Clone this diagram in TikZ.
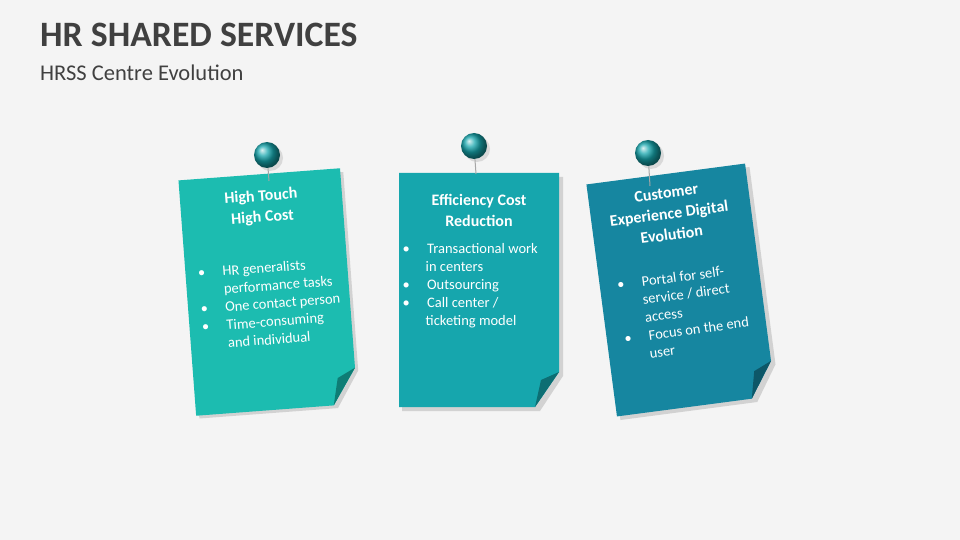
\documentclass[tikz,border=0pt]{standalone}
\usepackage{fontspec}
\setmainfont{Carlito}
\definecolor{cA}{HTML}{1CBCB0}
\definecolor{cB}{HTML}{16A6AD}
\definecolor{cC}{HTML}{1686A0}
\definecolor{fA}{HTML}{0E7D75}
\definecolor{fB}{HTML}{0D6E73}
\definecolor{fC}{HTML}{0D5768}
\begin{document}
\begin{tikzpicture}[x=1pt,y=-1pt,
  notetxt/.style={text=white,font=\fontsize{14.5}{18}\selectfont,align=left,transform shape},
  notehead/.style={text=white,font=\bfseries\fontsize{16}{21}\selectfont,align=center,transform shape},
  pinline/.style={draw=gray!70,line width=1pt}]
\fill[gray!9] (0,0) rectangle (960,540);
\useasboundingbox (0,0) rectangle (960,540);
\node[anchor=west,text=black!75,font=\bfseries\fontsize{35.7}{40}\selectfont,inner sep=0] (title) at (40,35) {HR SHARED SERVICES};
\node[anchor=west,text=black!75,font=\fontsize{22.5}{26}\selectfont,inner sep=0] (sub) at (40,73) {HRSS Centre Evolution};
% note 1
\begin{scope}[shift={(268,291)},rotate=4.3]
  \fill[black!30,opacity=.5] (-78,-113) -- (84,-113) -- (84,86) -- (61,122) -- (-78,122) -- cycle;
  \fill[cA] (-81,-117) -- (81,-117) -- (81,83) -- (57,119) -- (-81,119) -- cycle;
  \fill[fA] (81,83) -- (57,119) -- (63,92) -- cycle;
  \node[notehead] (h1) at (0,-84) {High Touch\\High Cost};
  \node[notetxt,anchor=north west] (b1) at (-72,-32) {\textbullet\hspace{1.2em}HR generalists\\\hspace{1.7em}performance tasks\\\textbullet\hspace{1.2em}One contact person\\\textbullet\hspace{1.2em}Time-consuming\\\hspace{1.7em}and individual};
\end{scope}
% note 2
\begin{scope}[shift={(479,290)}]
  \fill[black!30,opacity=.5] (-77,-113) -- (84,-113) -- (84,86) -- (61,121) -- (-77,121) -- cycle;
  \fill[cB] (-80,-117) -- (80,-117) -- (80,82) -- (56,117) -- (-80,117) -- cycle;
  \fill[fB] (80,82) -- (56,117) -- (62,90) -- cycle;
  \node[notehead] (h2) at (0,-80) {Efficiency Cost\\Reduction};
  \node[notetxt,anchor=north west] (b2) at (-80,-50) {\textbullet\hspace{1.2em}Transactional work\\\hspace{1.6em}in centers\\\textbullet\hspace{1.2em}Outsourcing\\\textbullet\hspace{1.2em}Call center /\\\hspace{1.6em}ticketing model};
\end{scope}
% note 3
\begin{scope}[shift={(681,290)},rotate=7.5]
  \fill[black!30,opacity=.5] (-77,-113) -- (84,-113) -- (84,86) -- (61,121) -- (-77,121) -- cycle;
  \fill[cC] (-80,-117) -- (80,-117) -- (80,82) -- (56,117) -- (-80,117) -- cycle;
  \fill[fC] (80,82) -- (56,117) -- (62,90) -- cycle;
  \node[notehead] (h3) at (-2,-77) {Customer\\Experience Digital\\Evolution};
  \node[notetxt,anchor=north west] (b3) at (-66,-22) {\textbullet\hspace{1.2em}Portal for self-\\\hspace{1.6em}service / direct\\\hspace{1.6em}access\\\textbullet\hspace{1.2em}Focus on the end\\\hspace{1.6em}user};
\end{scope}
% pins
\foreach \n/\x/\y/\ly in {p1/267/155/181, p2/474/146/174, p3/648/153/186}{
  \coordinate (\n b) at (\x+2,\ly);
  \draw[pinline] (\x,\y) -- (\n b);
  \fill[black!30,opacity=.4] (\x+3,\y+3) circle (13);
  \shade[ball color=cB] (\x,\y) circle (13);
  \node[circle,minimum size=26,inner sep=0] (\n) at (\x,\y) {};
}
\end{tikzpicture}
\end{document}
